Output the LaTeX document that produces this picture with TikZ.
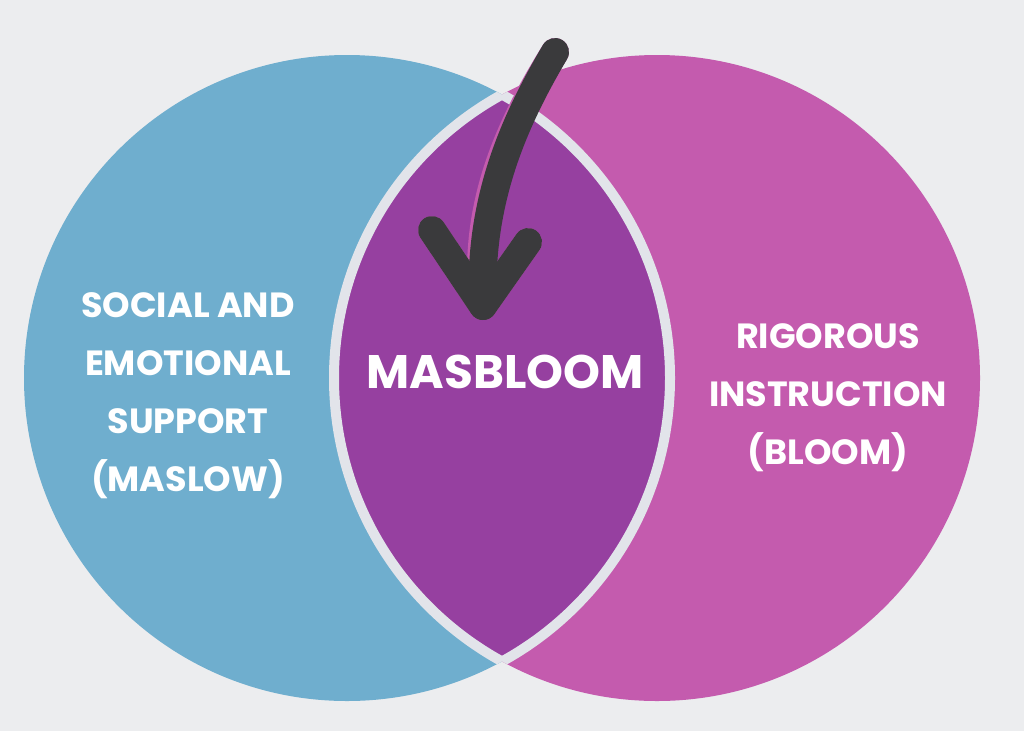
\documentclass[tikz,border=0pt]{standalone}
\usepackage{fontspec}
\setmainfont{Poppins}
\usetikzlibrary{positioning}
\definecolor{bg}{HTML}{ECEDEF}
\definecolor{maslow}{HTML}{6FAECE}
\definecolor{bloom}{HTML}{C45BAE}
\definecolor{masbloom}{HTML}{9640A0}
\definecolor{ring}{HTML}{E2E4EA}
\definecolor{arrowgray}{HTML}{3A3A3C}
\begin{document}
\begin{tikzpicture}[x=1pt, y=-1pt,
    set/.style={circle, minimum size=646pt, inner sep=0pt},
    label/.style={text=white, font=\fontsize{35}{58}\selectfont\bfseries, align=center},
    pointer/.style={line width=28pt, line cap=round, line join=round}
]
\useasboundingbox[fill=bg] (0,0) rectangle (1024,731);

% Circles
\node[set, fill=maslow] (left) at (347,378) {};
\node[set, fill=bloom] (right) at (657,378) {};

% Overlap
\begin{scope}
  \clip (347,378) circle (323pt);
  \fill[masbloom] (657,378) circle (323pt);
  \draw[ring, line width=10pt] (657,378) circle (323pt);
\end{scope}
\begin{scope}
  \clip (657,378) circle (323pt);
  \draw[ring, line width=10pt] (347,378) circle (323pt);
\end{scope}

% Arrow
\coordinate (start) at (555,52);
\coordinate (tip) at (483,306);
\coordinate (armL) at (432,230);
\coordinate (armR) at (528,242);
\begin{scope}[shift={(-6,6)}]
  \draw[pointer, bloom] (start) .. controls (515,120) and (478,200) .. (tip);
  \draw[pointer, bloom] (armL) -- (tip) -- (armR);
\end{scope}
\draw[pointer, arrowgray] (start) .. controls (515,120) and (478,200) .. (tip);
\draw[pointer, arrowgray] (armL) -- (tip) -- (armR);

% Labels
\node[label] (maslowtext) at (188,396) {SOCIAL AND\\EMOTIONAL\\SUPPORT\\(MASLOW)};
\node[label, font=\fontsize{47}{56}\selectfont\bfseries] (masbloomtext) at (505,372) {MASBLOOM};
\node[label] (bloomtext) at (828,398) {RIGOROUS\\INSTRUCTION\\(BLOOM)};
\end{tikzpicture}
\end{document}
